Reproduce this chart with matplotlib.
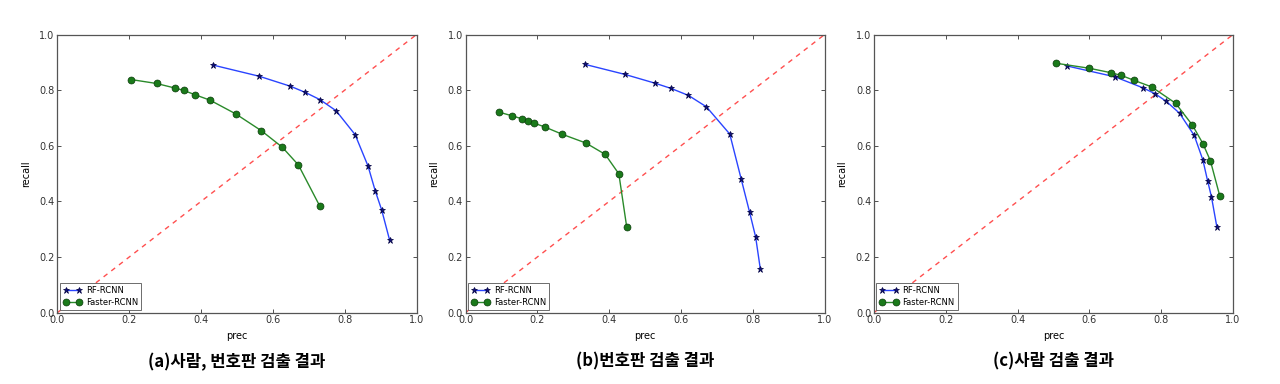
import matplotlib
matplotlib.use("Agg")
import matplotlib.pyplot as plt

# (a) person + plate
a_rf_prec = [0.434, 0.562, 0.649, 0.690, 0.731, 0.776, 0.829, 0.865, 0.885, 0.903, 0.925]
a_rf_recall = [0.890, 0.850, 0.814, 0.792, 0.766, 0.726, 0.640, 0.527, 0.438, 0.369, 0.261]
a_fr_prec = [0.206, 0.276, 0.326, 0.352, 0.382, 0.425, 0.496, 0.568, 0.626, 0.671, 0.731]
a_fr_recall = [0.838, 0.824, 0.808, 0.799, 0.784, 0.764, 0.715, 0.654, 0.595, 0.531, 0.382]

# (b) plate
b_rf_prec = [0.332, 0.443, 0.528, 0.573, 0.621, 0.671, 0.736, 0.768, 0.791, 0.808, 0.821]
b_rf_recall = [0.893, 0.857, 0.825, 0.806, 0.781, 0.740, 0.642, 0.479, 0.362, 0.272, 0.157]
b_fr_prec = [0.093, 0.129, 0.157, 0.174, 0.192, 0.220, 0.270, 0.335, 0.389, 0.427, 0.449]
b_fr_recall = [0.721, 0.708, 0.697, 0.690, 0.681, 0.668, 0.641, 0.610, 0.569, 0.499, 0.307]

# (c) person
c_rf_prec = [0.538, 0.671, 0.750, 0.783, 0.814, 0.851, 0.892, 0.916, 0.929, 0.940, 0.955]
c_rf_recall = [0.887, 0.848, 0.808, 0.787, 0.760, 0.717, 0.637, 0.549, 0.475, 0.416, 0.308]
c_fr_prec = [0.506, 0.599, 0.659, 0.689, 0.725, 0.773, 0.840, 0.887, 0.916, 0.937, 0.963]
c_fr_recall = [0.897, 0.879, 0.863, 0.853, 0.835, 0.812, 0.753, 0.674, 0.608, 0.546, 0.420]

captions = ["(a)사람, 번호판 검출 결과", "(b)번호판 검출 결과", "(c)사람 검출 결과"]
ticks = [0.0, 0.2, 0.4, 0.6, 0.8, 1.0]

panels = [
    (a_rf_prec, a_rf_recall, a_fr_prec, a_fr_recall),
    (b_rf_prec, b_rf_recall, b_fr_prec, b_fr_recall),
    (c_rf_prec, c_rf_recall, c_fr_prec, c_fr_recall),
]
lefts = [0.0449, 0.3637, 0.6828]

fig = plt.figure(figsize=(12.8, 3.84), dpi=100)
fig.patch.set_facecolor("white")

for left, (rp, rr, fp, fr), cap in zip(lefts, panels, captions):
    ax = fig.add_axes([left, 0.186, 0.2805, 0.724])
    ax.plot([0, 1], [0, 1], color="#ff3030", ls="--", lw=1, dashes=(3.5, 3.5), alpha=0.85)
    ax.plot(rp, rr, color="#2a44ff", lw=1, marker="*", markersize=5,
            markerfacecolor="#101080", markeredgecolor="#000040", markeredgewidth=0.5,
            label="RF-RCNN")
    ax.plot(fp, fr, color="#2a8a2a", lw=1, marker="o", markersize=5,
            markerfacecolor="#1a7a1a", markeredgecolor="#0a3a0a", markeredgewidth=0.5,
            label="Faster-RCNN")
    ax.set_xlim(0, 1)
    ax.set_ylim(0, 1)
    ax.set_xticks(ticks)
    ax.set_yticks(ticks)
    ax.tick_params(direction="in", top=True, right=True, labelsize=7,
                   length=3, width=0.6, colors="#333333", pad=2)
    for s in ax.spines.values():
        s.set_color("#555555")
        s.set_linewidth(0.9)
    ax.set_xlabel("prec", fontsize=7, labelpad=4)
    ax.set_ylabel("recall", fontsize=7, labelpad=6)
    leg = ax.legend(loc="lower left", fontsize=6, numpoints=2, handlelength=2.2,
                    borderpad=0.4, labelspacing=0.3, handletextpad=0.5,
                    fancybox=False, framealpha=1, borderaxespad=0.3)
    leg.get_frame().set_edgecolor("#555555")
    leg.get_frame().set_linewidth(0.6)
    fig.text(left + 0.2805 / 2, 0.058, cap, ha="center", va="center",
             fontsize=12, fontweight="bold", family=["Noto Sans CJK KR", "DejaVu Sans"])

fig.savefig("out.png", dpi=100, facecolor="white")
